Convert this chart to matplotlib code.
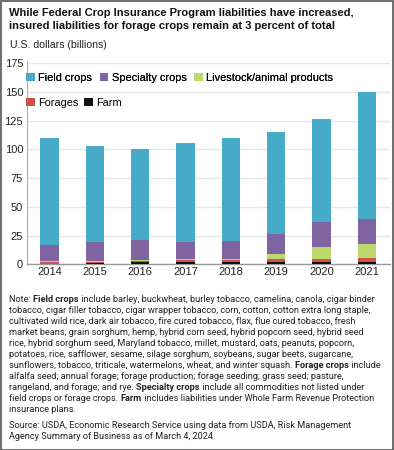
import matplotlib
matplotlib.use("Agg")
import matplotlib.pyplot as plt
from matplotlib.patches import Patch, Rectangle
import numpy as np

years = ["2014", "2015", "2016", "2017", "2018", "2019", "2020", "2021"]
farm = [0.5, 0.7, 1.6, 1.8, 1.8, 1.7, 1.7, 1.7]
forages = [1.5, 1.6, 1.5, 1.8, 2.0, 2.6, 2.9, 4.1]
livestock = [0.8, 0.8, 0.6, 0.6, 0.6, 4.6, 10.2, 11.6]
specialty = [14.0, 16.1, 17.2, 15.5, 16.2, 17.7, 22.3, 22.1]
field = [93.2, 83.8, 79.2, 85.9, 89.1, 88.2, 89.4, 110.5]
yticks = [0, 25, 50, 75, 100, 125, 150, 175]

series = [
    ("Farm", farm, "#111111"),
    ("Forages", forages, "#D0504A"),
    ("Livestock/animal products", livestock, "#BDD86C"),
    ("Specialty crops", specialty, "#8064A2"),
    ("Field crops", field, "#46ABC8"),
]

FONT = "Liberation Sans"
NOTEFONT = "Roboto"
plt.rcParams['font.family'] = [FONT, 'DejaVu Sans']

W, H = 394, 450
fig = plt.figure(figsize=(W / 100, H / 100), dpi=100)
renderer = fig.canvas.get_renderer()

def fx(px):
    return px / W

def fy(py):
    return 1 - py / H

def width_of(segs, fs, family=FONT):
    tot = 0
    for txt, bold in segs:
        t = fig.text(0, 0, txt, fontsize=fs, fontweight="bold" if bold else "normal",
                     family=[family, 'DejaVu Sans'])
        tot += t.get_window_extent(renderer=renderer).width
        t.remove()
    return tot

def fit(segs, target, family=FONT, fs0=8.0):
    return fs0 * target / width_of(segs, fs0, family)

ax = fig.add_axes([fx(27.3), fy(264.3), fx(390) - fx(27.3), fy(63.3) - fy(264.3)])
x = np.arange(len(years))
bottom = np.zeros(len(years))
for name, vals, col in series:
    ax.bar(x, vals, width=0.4, bottom=bottom, color=col, label=name, zorder=3,
           edgecolor=col, linewidth=0)
    bottom += np.array(vals)

ax.set_xlim(-0.49, 7.51)
ax.set_ylim(0, 175)
ax.set_yticks(yticks)
ax.set_yticklabels([str(v) for v in yticks])
ax.set_xticks(x)
ax.set_xticklabels(years)
ax.grid(axis="y", color="#e6e6e6", linewidth=1.0, zorder=0)
for s in ["top", "right"]:
    ax.spines[s].set_visible(False)
ax.spines["left"].set_color("#b0b0b0")
ax.spines["left"].set_linewidth(0.8)
ax.spines["left"].set_bounds(0, 177)
ax.spines["bottom"].set_color("#999999")
ax.spines["bottom"].set_linewidth(1.0)
ax.tick_params(axis="both", length=0, labelsize=8, colors="#222222")
ax.tick_params(axis="y", pad=3)
ax.tick_params(axis="x", pad=2)

# legends
def mk(name):
    for n, v, c in series:
        if n == name:
            return Patch(facecolor=c, edgecolor="none", label=n)

LFS = 7.9
leg1 = fig.legend(handles=[mk("Field crops"), mk("Specialty crops"), mk("Livestock/animal products")],
                  loc="center left", bbox_to_anchor=(fx(26), fy(78)), ncol=3, frameon=False,
                  fontsize=LFS, handlelength=0.8, handleheight=0.8, handletextpad=0.3,
                  columnspacing=0.7, borderaxespad=0, borderpad=0)
leg2 = fig.legend(handles=[mk("Forages"), mk("Farm")],
                  loc="center left", bbox_to_anchor=(fx(26), fy(103)), ncol=2, frameon=False,
                  fontsize=LFS, handlelength=0.8, handleheight=0.8, handletextpad=0.3,
                  columnspacing=0.55, borderaxespad=0, borderpad=0)
fig.add_artist(leg1)

# title
t1 = "While Federal Crop Insurance Program liabilities have increased,"
t2 = "insured liabilities for forage crops remain at 3 percent of total"
TFS = fit([(t1, True)], 345)
fig.text(fx(9.3), fy(12.5), t1, fontsize=TFS, fontweight="bold", va="center", ha="left", color="#111111")
fig.text(fx(9.3), fy(26.2), t2, fontsize=TFS, fontweight="bold", va="center", ha="left", color="#111111")
ulab = "U.S. dollars (billions)"
fig.text(fx(9.6), fy(45), ulab, fontsize=fit([(ulab, False)], 97), va="center", ha="left", color="#222222")

note_lines = [
    [("Note: ", False), ("Field crops", True), (" include barley, buckwheat, burley tobacco, camelina, canola, cigar binder", False)],
    [("tobacco, cigar filler tobacco, cigar wrapper tobacco, corn, cotton, cotton extra long staple,", False)],
    [("cultivated wild rice, dark air tobacco, fire cured tobacco, flax, flue cured tobacco, fresh", False)],
    [("market beans, grain sorghum, hemp, hybrid corn seed, hybrid popcorn seed, hybrid seed", False)],
    [("rice, hybrid sorghum seed, Maryland tobacco, millet, mustard, oats, peanuts, popcorn,", False)],
    [("potatoes, rice, safflower, sesame, silage sorghum, soybeans, sugar beets, sugarcane,", False)],
    [("sunflowers, tobacco, triticale, watermelons, wheat, and winter squash. ", False), ("Forage crops", True), (" include", False)],
    [("alfalfa seed; annual forage; forage production; forage seeding; grass seed; pasture,", False)],
    [("rangeland, and forage; and rye. ", False), ("Specialty crops", True), (" include all commodities not listed under", False)],
    [("field crops or forage crops. ", False), ("Farm", True), (" includes liabilities under Whole Farm Revenue Protection", False)],
    [("insurance plans.", False)],
]
source_lines = [
    "Source: USDA, Economic Research Service using data from USDA, Risk Management",
    "Agency Summary of Business as of March 4, 2024.",
]

NFS = fit(note_lines[6], 371, NOTEFONT)

def draw_line(segs, ypx):
    xp = 9.3
    for txt, bold in segs:
        t = fig.text(fx(xp), fy(ypx), txt, fontsize=NFS, fontweight="bold" if bold else "normal",
                     va="center", ha="left", color="#222222", family=[NOTEFONT, 'DejaVu Sans'])
        bb = t.get_window_extent(renderer=renderer)
        xp += bb.width

y0 = 299.3
for i, segs in enumerate(note_lines):
    draw_line(segs, y0 + i * 11.07)
for i, s in enumerate(source_lines):
    draw_line([(s, False)], 425.3 + i * 11.0)

fig.add_artist(Rectangle((0.5 / W, 0.5 / H), 1 - 1.5 / W, 1 - 1.5 / H, transform=fig.transFigure,
                         fill=False, edgecolor="#555555", linewidth=1.2))

fig.savefig("out.png", dpi=100)
